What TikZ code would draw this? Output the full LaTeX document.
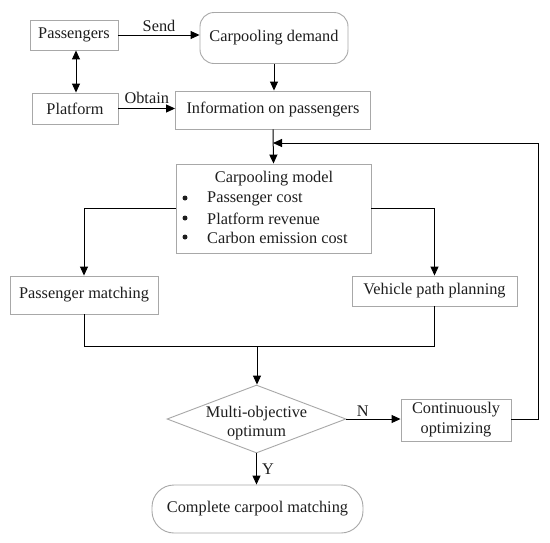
\documentclass[tikz,border=0pt]{standalone}
\usepackage{fontspec}
\setmainfont{Liberation Serif}
\usetikzlibrary{shapes.geometric,arrows.meta,calc}
\definecolor{boxgray}{HTML}{A8A8A8}
\definecolor{txt}{HTML}{1E1E1E}
\tikzset{
  box/.style={draw=boxgray, line width=0.9pt, fill=white, text=txt, inner sep=0pt, align=center},
  rbox/.style={box, rounded corners=#1},
  conn/.style={line width=1pt, draw=black, -{Triangle[length=9pt,width=8pt]}},
  line/.style={line width=1pt, draw=black},
  lbl/.style={text=txt, inner sep=1pt},
  bul/.style={circle, fill=txt, inner sep=0pt, minimum size=5pt},
}
\begin{document}
\begin{tikzpicture}[x=1pt,y=-1pt, font=\fontsize{16.3}{18}\selectfont]
\useasboundingbox (0,0) rectangle (550,542);
\fill[white] (0,0) rectangle (550,542);
% nodes
\node[box, minimum width=88, minimum height=30] (pass) at (74,35) {Passengers};
\node[rbox=14pt, minimum width=148, minimum height=51] (demand) at (274,38) {Carpooling demand};
\node[box, minimum width=86, minimum height=31] (plat) at (75,108.5) {Platform};
\node[box, minimum width=195, minimum height=38] (info) at (273,110) {Information on passengers};
\node[box, minimum width=195, minimum height=89] (model) at (273.5,208.5) {};
\node[lbl] (mtitle) at (274,179) {Carpooling model};
\node[bul] (b1) at (185,198) {};
\node[bul] (b2) at (185,218) {};
\node[bul] (b3) at (185,237) {};
\node[lbl, anchor=west] (t1) at (206,199) {Passenger cost};
\node[lbl, anchor=west] (t2) at (206,219) {Platform revenue};
\node[lbl, anchor=west] (t3) at (206,238) {Carbon emission cost};
\node[box, minimum width=148, minimum height=38] (pm) at (84,295) {Passenger matching};
\node[box, minimum width=165, minimum height=30] (vpp) at (434.5,291) {Vehicle path planning};
\node[diamond, draw=boxgray, line width=0.9pt, aspect=2.63, minimum width=179, minimum height=68, inner sep=0pt] (dia) at (256.5,419) {};
\node[lbl, align=center, font=\fontsize{16.3}{19}\selectfont] (diat) at (256.5,423) {Multi-objective\\optimum};
\node[box, minimum width=110, minimum height=42, font=\fontsize{16.3}{20}\selectfont] (cont) at (456,420) {Continuously\\optimizing};
\node[rbox=22pt, minimum width=211, minimum height=48] (comp) at (257.5,509) {Complete carpool matching};
\coordinate (j) at (257,346);
\coordinate (fb) at (538,143);
% connectors
\draw[conn] (pass.east) -- (pass.east -| demand.west) node[lbl, midway, above=2pt] (send) {Send};
\draw[line width=1pt, {Triangle[length=9pt,width=8pt]}-{Triangle[length=9pt,width=8pt]}] (pass.south -| 76,0) -- (plat.north -| 76,0);
\draw[conn] (plat.east) -- (plat.east -| info.west) node[lbl, midway, above=3pt] (obtain) {Obtain};
\draw[conn] (demand.south) -- (demand.south |- info.north);
\draw[conn] (info.south) -- (model.north);
\draw[conn] (model.west) -| (pm.north);
\draw[conn] (model.east) -| (vpp.north);
\draw[line] (pm.south) |- (j);
\draw[line] (vpp.south) |- (j);
\draw[conn] (j) -- (j |- dia.north);
\draw[conn] (dia.east) -- (dia.east -| cont.west) node[lbl, pos=0.3, above=1pt] (nlab) {N};
\draw[conn] (dia.south) -- (dia.south |- comp.north) node[lbl, midway, right=4pt] (ylab) {Y};
\draw[conn] (cont.east |- dia.east) -| (fb) -- (fb -| info.south);
\end{tikzpicture}
\end{document}
